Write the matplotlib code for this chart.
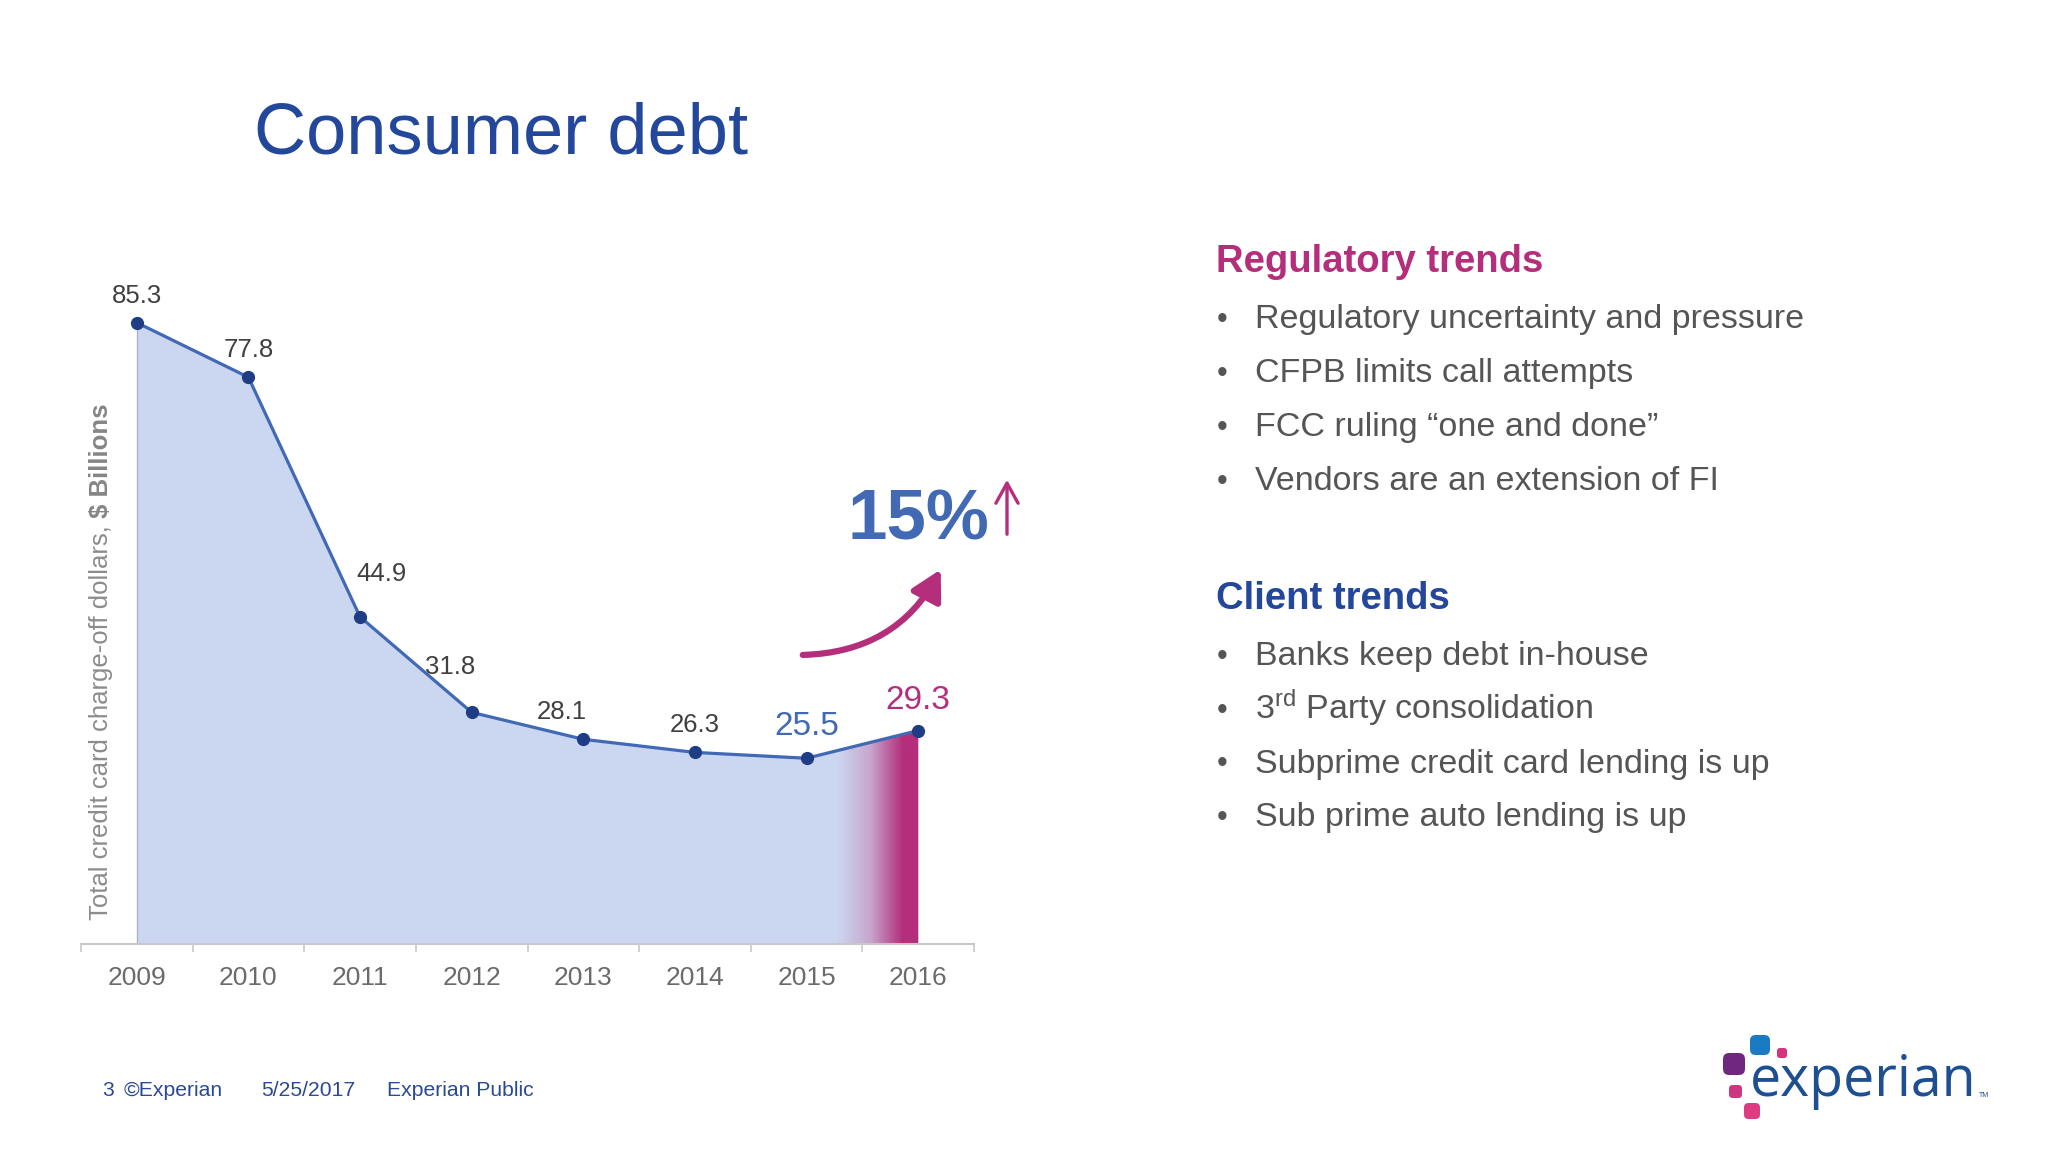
import numpy as np
import matplotlib.pyplot as plt
from matplotlib.colors import LinearSegmentedColormap
from matplotlib.patches import Polygon, FancyArrowPatch, FancyBboxPatch
from matplotlib.transforms import IdentityTransform

plt.rcParams['font.family'] = ['Liberation Sans', 'DejaVu Sans']
plt.rcParams['mathtext.fontset'] = 'custom'
plt.rcParams['mathtext.rm'] = 'Liberation Sans'
plt.rcParams['mathtext.it'] = 'Liberation Sans:italic'
plt.rcParams['mathtext.bf'] = 'Liberation Sans:bold'

# chart data
years = ['2009', '2010', '2011', '2012', '2013', '2014', '2015', '2016']
chargeoffs = [85.3, 77.8, 44.9, 31.8, 28.1, 26.3, 25.5, 29.3]

# side text
reg_heading = 'Regulatory trends'
reg_trends = ['Regulatory uncertainty and pressure',
              'CFPB limits call attempts',
              'FCC ruling \u201cone and done\u201d',
              'Vendors are an extension of FI']
client_heading = 'Client trends'
client_trends = ['Banks keep debt in-house',
                 '3$^{\\mathrm{rd}}$ Party consolidation',
                 'Subprime credit card lending is up',
                 'Sub prime auto lending is up']
footer = [('3', 102), ('\u00a9Experian', 124), ('5/25/2017', 261), ('Experian Public', 387)]

# colours
NAVY = '#23479a'
MAGENTA = '#b52e7c'
LINE = '#4169b4'
MARKER = '#1f3d85'
FILL = '#cbd6f0'
GRAY = '#555555'
LABEL = '#404040'

W, H = 2048, 1152
fig = plt.figure(figsize=(W / 100, H / 100), dpi=100)
fig.patch.set_facecolor('white')

def fx(px):
    return px / W

def fy(py):
    return 1 - py / H

# ---- chart ----
ax = fig.add_axes([fx(81), fy(944), 893 / W, (944 - 288.4) / H])
ax.patch.set_alpha(0)
x = np.arange(len(years))
vals = np.array(chargeoffs)

ax.fill_between(x, vals, 0, color=FILL, lw=0, zorder=1)
ax.vlines(x[0], 0, vals[0], color='#aab4cc', lw=1, zorder=1.2)

# gradient fading into magenta over the last segment
cmap = LinearSegmentedColormap.from_list(
    'fade', [(0, FILL), (0.4, '#c6a6cc'), (0.8, MAGENTA), (1, MAGENTA)])
im = ax.imshow(np.linspace(0, 1, 256)[None, :], cmap=cmap, aspect='auto',
               extent=[x[-1] - 0.72, x[-1], 0, vals.max()], zorder=1.5)
clip = Polygon(np.column_stack([np.r_[x, x[::-1]], np.r_[vals, np.zeros_like(vals)]]),
               transform=ax.transData)
im.set_clip_path(clip)

ax.plot(x, vals, color=LINE, lw=2.3, zorder=3)
ax.plot(x, vals, 'o', color=MARKER, ms=8.5, zorder=4)

label_offsets = [(0, 14.4), (0, 14.4), (15.5, 26.2), (-15.8, 27.6),
                 (-15.8, 14.4), (0, 14.4), (0, 16.5), (0, 15.8)]
for i, (v, off) in enumerate(zip(vals, label_offsets)):
    if i == len(vals) - 1:
        c, fs = MAGENTA, 24
    elif i == len(vals) - 2:
        c, fs = LINE, 24
    else:
        c, fs = LABEL, 18.5
    ax.annotate(f'{v:.1f}', (x[i], v), xytext=off, textcoords='offset points',
                ha='center', va='baseline', fontsize=fs, color=c, zorder=5)

ax.set_xlim(-0.5, len(years) - 0.5)
ax.set_ylim(0, 90)
ax.set_yticks([])
ax.set_xticks(x, labels=years)
ax.set_xticks(np.arange(len(years) + 1) - 0.5, minor=True)
ax.tick_params(axis='x', which='major', length=0, pad=15.5, labelsize=19, labelcolor='#6b6b6b')
ax.tick_params(axis='x', which='minor', length=6, width=1.2, color='#c8c8c8')
for s in ['left', 'right', 'top']:
    ax.spines[s].set_visible(False)
ax.spines['bottom'].set_color('#c8c8c8')
ax.spines['bottom'].set_linewidth(1.5)

# y label, regular + bold part
yl1 = fig.text(fx(108), fy(919.5), 'Total credit card charge-off dollars,', rotation=90,
               rotation_mode='anchor', ha='left', va='baseline', fontsize=18.5, color='#8c8c8c')
fig.canvas.draw()
bb = yl1.get_window_extent()
fig.text(fx(108), (bb.y1) / H, ' \\$ Billions', rotation=90, rotation_mode='anchor',
         ha='left', va='baseline', fontsize=18.5, color='#858585', fontweight='bold')

# 15% callout
fig.text(fx(847), fy(539), '15%', fontsize=51, fontweight='bold', color=LINE,
         ha='left', va='baseline')
fig.add_artist(FancyArrowPatch((1007, H - 537), (1007, H - 477),
                               transform=IdentityTransform(),
                               arrowstyle='->,head_length=9,head_width=5',
                               color=MAGENTA, lw=2.4, mutation_scale=1.6))
fig.add_artist(FancyArrowPatch((800, H - 655), (942, H - 567),
                               transform=IdentityTransform(),
                               connectionstyle='arc3,rad=0.3',
                               arrowstyle='-|>,head_length=10,head_width=5.5',
                               color=MAGENTA, lw=4.5, mutation_scale=1.8))

# title
fig.text(fx(254), fy(154), 'Consumer debt', fontsize=52, color=NAVY, ha='left', va='baseline')

# right side lists
def bullet_block(heading, color, head_y, items, first_y):
    fig.text(fx(1216), fy(head_y), heading, fontsize=27.5, fontweight='bold', color=color,
             ha='left', va='baseline')
    for k, item in enumerate(items):
        y = first_y + k * 53.9
        fig.text(fx(1217), fy(y), '\u2022', fontsize=22, color=GRAY, ha='left', va='baseline')
        fig.text(fx(1255), fy(y), item, fontsize=24.5, color=GRAY, ha='left', va='baseline')

bullet_block(reg_heading, MAGENTA, 271.6, reg_trends, 327.8)
bullet_block(client_heading, NAVY, 608.6, client_trends, 664.7)

# footer
for txt, px in footer:
    fig.text(fx(px), fy(1096), txt, fontsize=15.2, color='#2b4a94', ha='left', va='baseline')

# logo
squares = [(1723, 1053, 22, '#70287f'), (1750, 1035, 20, '#1a7bc2'),
           (1777, 1048, 10, '#d6337e'), (1729, 1085, 13, '#cf3480'),
           (1744, 1103, 16, '#de3c82')]
for sx, sy, sz, c in squares:
    fig.add_artist(FancyBboxPatch((sx, H - sy - sz), sz, sz,
                                  boxstyle=f'round,pad=0,rounding_size={sz * 0.28}',
                                  transform=IdentityTransform(), color=c, lw=0))
fig.text(fx(1750), fy(1096), 'experian', fontsize=40, color='#1d4f91',
         family='Open Sans', ha='left', va='baseline')
fig.text(fx(1979), fy(1097), 'TM', fontsize=5, color='#1d4f91', ha='left', va='baseline')

fig.savefig('out.png', dpi=100)
